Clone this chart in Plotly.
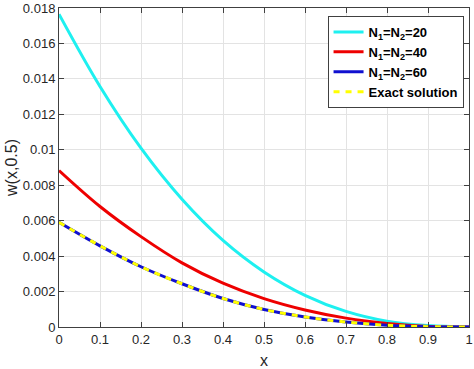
import plotly.graph_objects as go

x_vals = [0.0, 0.1, 0.2, 0.3, 0.4, 0.5, 0.6, 0.7, 0.8, 0.9, 1.0]
w_n20 = [0.01765, 0.01357, 0.01009, 0.00721, 0.00489, 0.00311, 0.00179, 0.00088, 0.00033, 0.00008, 0.0]
w_n40 = [0.00883, 0.00680, 0.00510, 0.00362, 0.00247, 0.00160, 0.00096, 0.00050, 0.00020, 0.00003, 0.0]
w_n60 = [0.00591, 0.00458, 0.00340, 0.00244, 0.00161, 0.00099, 0.00057, 0.00028, 0.00010, 0.00002, 0.0]
w_exact = [0.00591, 0.00458, 0.00340, 0.00244, 0.00161, 0.00099, 0.00057, 0.00028, 0.00010, 0.00002, 0.0]

series_names = ["N<sub>1</sub>=N<sub>2</sub>=20", "N<sub>1</sub>=N<sub>2</sub>=40",
                "N<sub>1</sub>=N<sub>2</sub>=60", "Exact solution"]

x_tick_vals = [0, 0.1, 0.2, 0.3, 0.4, 0.5, 0.6, 0.7, 0.8, 0.9, 1]
x_tick_labels = ["0", "0.1", "0.2", "0.3", "0.4", "0.5", "0.6", "0.7", "0.8", "0.9", "1"]
y_tick_vals = [0, 0.002, 0.004, 0.006, 0.008, 0.01, 0.012, 0.014, 0.016, 0.018]
y_tick_labels = ["0", "0.002", "0.004", "0.006", "0.008", "0.01", "0.012", "0.014", "0.016", "0.018"]

fig = go.Figure()
styles = [
    dict(color="#1ef0f0", width=3, dash="solid"),
    dict(color="#ee0000", width=3, dash="solid"),
    dict(color="#1010d0", width=3, dash="solid"),
    dict(color="#ffff00", width=3, dash="6px,6px"),
]
for name, ys, st in zip(series_names, [w_n20, w_n40, w_n60, w_exact], styles):
    fig.add_trace(go.Scatter(x=x_vals, y=ys, mode="lines", name="<b>" + name + "</b>",
                             line=dict(shape="spline", smoothing=1.0, **st)))

axis_common = dict(
    showline=True, linecolor="#404040", linewidth=1, mirror="ticks",
    ticks="inside", ticklen=5, tickcolor="#404040",
    showgrid=True, gridcolor="#e3e3e3", gridwidth=1, zeroline=False,
    ticklabeloverflow="allow",
    tickfont=dict(family="Liberation Sans, Arial, sans-serif", size=13, color="#262626"),
)

fig.update_layout(
    width=474, height=369,
    margin=dict(l=59, r=1, t=4, b=41),
    paper_bgcolor="white", plot_bgcolor="white",
    font=dict(family="Liberation Sans, Arial, sans-serif", color="#262626"),
    xaxis=dict(range=[0, 1], tickvals=x_tick_vals, ticktext=x_tick_labels,
               title=dict(text="x", font=dict(size=16), standoff=10), **axis_common),
    yaxis=dict(range=[0, 0.018], tickvals=y_tick_vals, ticktext=y_tick_labels,
               title=dict(text="w(x,0.5)", font=dict(size=16), standoff=1), **axis_common),
    legend=dict(x=0.655, y=0.975, xanchor="left", yanchor="top",
                bgcolor="white", bordercolor="#404040", borderwidth=1,
                font=dict(size=13, color="black"), tracegroupgap=0),
    showlegend=True,
)

fig.write_html("out.html", config={"displayModeBar": False},
               post_script="document.body.style.margin='0';")
